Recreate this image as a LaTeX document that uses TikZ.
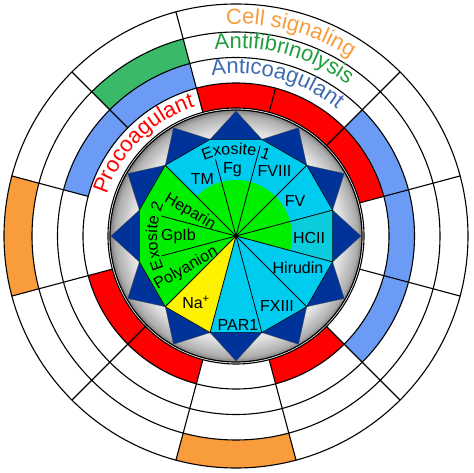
\documentclass[tikz,border=0pt]{standalone}
\usepackage{fontspec}
\setmainfont{Liberation Sans}
\usetikzlibrary{decorations.text}
\definecolor{procol}{RGB}{255,0,0}
\definecolor{anticol}{RGB}{108,155,245}
\definecolor{antitext}{RGB}{62,106,178}
\definecolor{fibcol}{RGB}{58,186,104}
\definecolor{fibtext}{RGB}{34,158,64}
\definecolor{cellcol}{RGB}{248,156,60}
\definecolor{starcol}{RGB}{0,51,153}
\definecolor{skycol}{RGB}{0,204,240}
\definecolor{tealcol}{RGB}{10,204,218}
\definecolor{leafcol}{RGB}{0,238,0}
\pgfdeclareradialshading{ballshade}{\pgfpointorigin}{color(0bp)=(white); color(16bp)=(white); color(21bp)=(black!12); color(24bp)=(black!32); color(25bp)=(black!50); color(50bp)=(black!50)}
\newcommand{\bigtext}{\fontsize{22}{24}\selectfont}
\newcommand{\midtext}{\fontsize{16}{18}\selectfont}
\tikzset{
  sep/.style={line width=1.1pt},
  lab/.style={font=\midtext,inner sep=0pt},
  ringtext/.style={decorate,decoration={text along path,text align=center,text={#1}}}
}
\begin{document}
\begin{tikzpicture}[x=1pt,y=1pt,line join=round,line cap=round]
	\useasboundingbox (-236,-237) rectangle (238,236);
	\def\rA{232}\def\rB{204}\def\rC{178.5}\def\rD{153}\def\rE{128}
	\def\ringseg#1#2#3#4#5{\fill[#5] (#3:#1) arc[start angle=#3,end angle=#4,radius=#1] -- (#4:#2) arc[start angle=#4,end angle=#3,radius=#2] -- cycle;}
	% coloured segments of the four rings
	\foreach \a in {165,255} {\ringseg{\rB}{\rA}{\a}{\a+30}{cellcol}}
	\ringseg{\rC}{\rB}{105}{135}{fibcol}
	\foreach \a in {105,135,315,345,15} {\ringseg{\rD}{\rC}{\a}{\a+30}{anticol}}
	\foreach \a in {15,45,75,195,225,285} {\ringseg{\rE}{\rD}{\a}{\a+30}{procol}}
	\foreach \r in {\rA,\rB,\rC,\rD} \draw[sep] (0,0) circle (\r);
	\foreach \a in {15,45,105,195,225,255,285,315,345} \draw[sep] (\a:\rE) -- (\a:\rA);
	\foreach \a in {135,165} \draw[sep] (\a:\rD) -- (\a:\rA);
	\draw[sep] (75:\rE) -- (75:\rD);
	% ring labels
	\path[ringtext={|\bigtext\color{cellcol}|Cell signaling}] (105:212) arc[start angle=105,end angle=45,radius=212];
	\path[ringtext={|\bigtext\color{fibtext}|Antifibrinolysis}] (105:188) arc[start angle=105,end angle=45,radius=188];
	\path[ringtext={|\bigtext\color{antitext}|Anticoagulant}] (105:162.5) arc[start angle=105,end angle=45,radius=162.5];
	\path[ringtext={|\bigtext\color{procol}|Procoagulant}] (167:135.5) arc[start angle=167,end angle=103,radius=135.5];
	% shaded disc and star
	\shade[shading=ballshade] (0,0) circle (126);
	\draw[line width=1.2pt] (0,0) circle (126);
	\draw[sep] (0,0) circle (\rE);
	\path[fill=starcol,draw=black!70,line width=0.3pt] (0:125) \foreach \k in {0,...,11} {-- (\k*30+15:100) -- (\k*30+30:125)} -- cycle;
	% inner sectors
	\fill[skycol] (15:100) \foreach \k in {1,...,11} {-- (\k*30+15:100)} -- cycle;
	\fill[tealcol] (0,0) -- (-15:100) -- (15:100) -- cycle;
	\fill[leafcol] (0,0) -- (-15:56) arc[start angle=-15,end angle=135,radius=56] -- cycle;
	\fill[leafcol] (0,0) -- (135:100) -- (165:100) -- (195:100) -- (225:100) -- cycle;
	\fill[yellow] (0,0) -- (225:100) -- (255:100) -- cycle;
	\draw[line width=0.6pt] (15:100) \foreach \k in {1,...,11} {-- (\k*30+15:100)} -- cycle;
	\foreach \a in {15,45,135,225,255,285,315,345} \draw[line width=0.8pt] (0,0) -- (\a:100);
	\draw[line width=0.8pt] (0,0) -- (75:93) (0,0) -- (105:79) (0,0) -- (165:77) (0,0) -- (195:77);
	\fill (0,0) circle (2.5);
	\path[ringtext={|\midtext|Exosite 1}] (135:82) arc[start angle=135,end angle=45,radius=82];
	\path[ringtext={|\midtext|Exosite 2}] (225:79) arc[start angle=225,end angle=135,radius=79];
	\node[lab] (tm) at (-33.5,57) {TM};
	\node[lab] (fg) at (-3.5,66) {Fg};
	\node[lab] (fviii) at (38.5,64.5) {FVIII};
	\node[lab] (fv) at (59,35.5) {FV};
	\node[lab] (hcii) at (73,-1.5) {HCII};
	\node[lab] (hirudin) at (62,-32) {Hirudin};
	\node[lab] (fxiii) at (41,-69.5) {FXIII};
	\node[lab] (par) at (2,-89) {PAR1};
	\node[lab] (na) at (-40,-66) {Na\textsuperscript{+}};
	\node[lab,rotate=30] (poly) at (-50,-32.5) {Polyanion};
	\node[lab] (gpib) at (-57.5,-0.5) {GpIb};
	\node[lab,rotate=-30] (heparin) at (-46,24) {Heparin};
\end{tikzpicture}
\end{document}
